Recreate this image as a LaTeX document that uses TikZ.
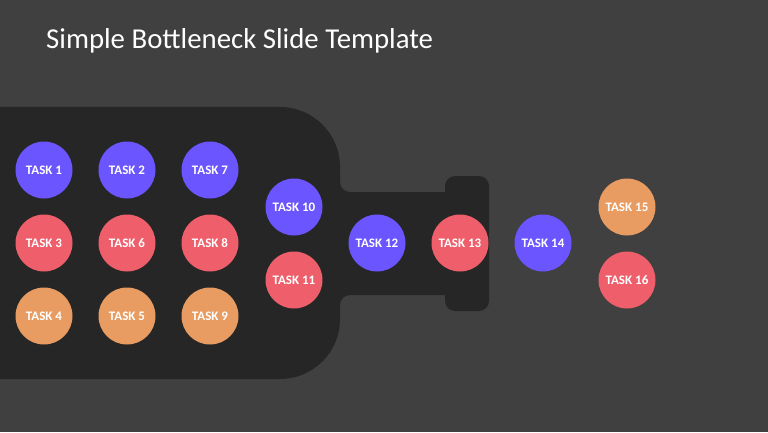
\documentclass[tikz,border=0pt]{standalone}
\usepackage{fontspec}
\setmainfont{Carlito}
\definecolor{bgc}{HTML}{404040}
\definecolor{bottle}{HTML}{262626}
\definecolor{cpurple}{HTML}{6B55FE}
\definecolor{cred}{HTML}{EF5F6B}
\definecolor{corange}{HTML}{E99C62}
\tikzset{
  task/.style={circle, minimum size=57pt, inner sep=0pt, text=white,
    font=\fontsize{13pt}{15pt}\selectfont\bfseries},
  tp/.style={task, fill=cpurple},
  tr/.style={task, fill=cred},
  to/.style={task, fill=corange},
}
\begin{document}
\begin{tikzpicture}[x=1pt,y=1pt]
\fill[bgc] (0,0) rectangle (768,432);
\useasboundingbox (0,0) rectangle (768,432);
% bottle
\fill[bottle] (-10,325) -- (280,325) arc[start angle=90,end angle=0,radius=60]
  -- (340,250) arc[start angle=180,end angle=270,radius=10]
  -- (450,240) -- (450,137) -- (350,137)
  arc[start angle=90,end angle=180,radius=10]
  -- (340,113) arc[start angle=0,end angle=-90,radius=60]
  -- (-10,53) -- cycle;
\fill[bottle, rounded corners=10pt] (445,121) rectangle (489,256);
% title
\node[anchor=base west, inner sep=0pt, text=white, font=\fontsize{28.8pt}{32pt}\selectfont] (title) at (46,383) {Simple Bottleneck Slide Template};
% tasks
\node[tp] (t1) at (44,262) {TASK 1};
\node[tp] (t2) at (127,262) {TASK 2};
\node[tp] (t7) at (210,262) {TASK 7};
\node[tr] (t3) at (44,189) {TASK 3};
\node[tr] (t6) at (127,189) {TASK 6};
\node[tr] (t8) at (210,189) {TASK 8};
\node[to] (t4) at (44,116) {TASK 4};
\node[to] (t5) at (127,116) {TASK 5};
\node[to] (t9) at (210,116) {TASK 9};
\node[tp] (t10) at (294,225) {TASK 10};
\node[tr] (t11) at (294,152) {TASK 11};
\node[tp] (t12) at (377,189) {TASK 12};
\node[tr] (t13) at (460,189) {TASK 13};
\node[tp] (t14) at (543,189) {TASK 14};
\node[to] (t15) at (627,225) {TASK 15};
\node[tr] (t16) at (627,152) {TASK 16};
\end{tikzpicture}
\end{document}
